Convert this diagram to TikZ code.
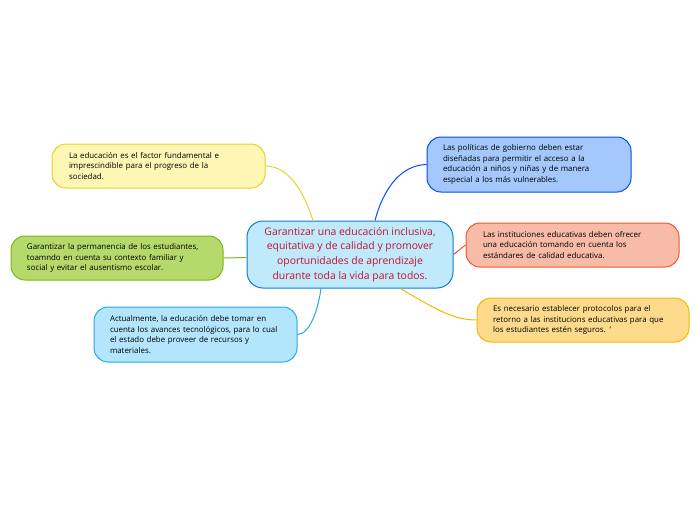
\documentclass[tikz,border=0pt]{standalone}
\usepackage{fontspec}
\setmainfont{Open Sans}
\begin{document}
\begin{tikzpicture}[x=1pt,y=-1pt,
 box/.style={draw,line width=1pt,rounded corners=14pt,font=\fontsize{7.9}{10.8}\selectfont,align=left,inner xsep=0pt,inner ysep=0pt,text=black},
 conn/.style={line width=1pt}]
\useasboundingbox (0,0) rectangle (696,520);
\definecolor{cred}{HTML}{C8102E}
\node[box,draw=cyan!60!blue,fill=cyan!25,rounded corners=16pt,minimum width=206pt,minimum height=67pt,text=cred,align=center,font=\fontsize{10.4}{14.8}\selectfont] (c) at (350,254.5) {Garantizar una educación inclusiva,\\equitativa y de calidad y promover\\oportunidades de aprendizaje\\durante toda la vida para todos.};
\node[box,draw=blue!70!cyan,fill={rgb,255:red,164;green,200;blue,251},minimum width=204pt,minimum height=55pt,text width=172pt] (b1) at (529,164.5) {Las políticas de gobierno deben estar\\diseñadas para permitir el acceso a la\\educación a niños y niñas y de manera\\especial a los más vulnerables.};
\node[box,draw={rgb,255:red,240;green,89;blue,43},fill={rgb,255:red,247;green,187;blue,168},minimum width=213pt,minimum height=44pt,text width=179pt] (b2) at (572.5,245) {Las instituciones educativas deben ofrecer\\una educación tomando en cuenta los\\estándares de calidad educativa.};
\node[box,draw={rgb,255:red,245;green,184;blue,0},fill={rgb,255:red,254;green,219;blue,140},minimum width=212pt,minimum height=44pt,text width=180pt] (b3) at (583,320) {Es necesario establecer protocolos para el\\retorno a las institucions educativas para que\\los estudiantes estén seguros. `};
\node[box,draw={rgb,255:red,232;green,210;blue,42},fill={rgb,255:red,253;green,246;blue,180},minimum width=213pt,minimum height=44pt,text width=179pt] (l1) at (158.5,166) {La educación es el factor fundamental e\\imprescindible para el progreso de la\\sociedad.};
\node[box,draw={rgb,255:red,124;green,181;blue,24},fill={rgb,255:red,181;green,217;blue,107},minimum width=212pt,minimum height=44pt,text width=180pt] (l2) at (117,258) {Garantizar la permanencia de los estudiantes,\\toamndo en cuenta su contexto familiar y\\social y evitar el ausentismo escolar.};
\node[box,draw={rgb,255:red,41;green,168;blue,224},fill={rgb,255:red,179;green,229;blue,252},minimum width=203pt,minimum height=55pt,text width=171pt] (l3) at (195.5,334.5) {Actualmente, la educación debe tomar en\\cuenta los avances tecnológicos, para lo cual\\el estado debe proveer de recursos y\\materiales.};
\draw[conn,draw=blue!70!cyan] (c.north)++(25,0) .. controls (383,190) and (400,165) .. (b1.west);
\draw[conn,draw={rgb,255:red,240;green,89;blue,43}] (c.east) -- (b2.west);
\draw[conn,draw={rgb,255:red,245;green,184;blue,0}] (c.south)++(50,0) .. controls (430,305) and (450,320) .. (b3.west);
\draw[conn,draw={rgb,255:red,232;green,210;blue,42}] (c.north)++(-37,0) .. controls (305,195) and (290,166) .. (l1.east);
\draw[conn,draw={rgb,255:red,124;green,181;blue,24}] (c.west)++(0,3) -- (l2.east);
\draw[conn,draw={rgb,255:red,41;green,168;blue,224}] (c.south)++(-29,0) .. controls (318,310) and (310,334) .. (l3.east);
\end{tikzpicture}
\end{document}
